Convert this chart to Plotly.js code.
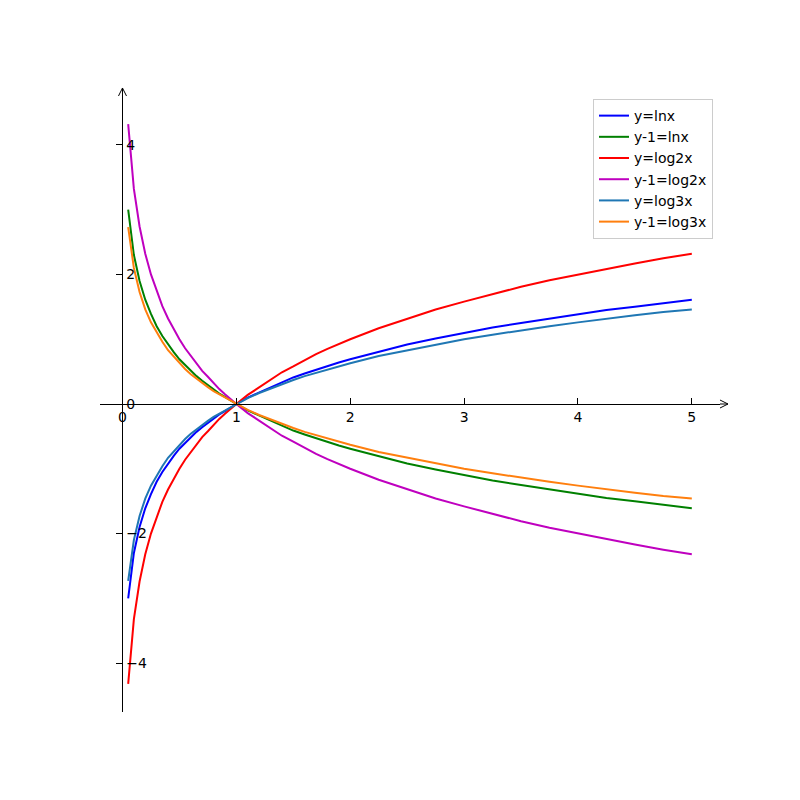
<!DOCTYPE html>
<html>
<head>
<meta charset="utf-8">
<script src="https://cdn.plot.ly/plotly-3.0.1.min.js"></script>
<style>body{margin:0;padding:0;background:#fff;} #chart{width:800px;height:800px;}</style>
</head>
<body>
<div id="chart"></div>
<script>
// x sample points
const xs = [0.05, 0.1, 0.15, 0.2, 0.25, 0.3, 0.35, 0.4, 0.45, 0.5, 0.55, 0.6, 0.65, 0.7, 0.75, 0.8, 0.85, 0.9, 0.95, 1.0,
            1.1, 1.2, 1.3, 1.4, 1.5, 1.6, 1.7, 1.8, 1.9, 2.0,
            2.25, 2.5, 2.75, 3.0, 3.25, 3.5, 3.75, 4.0, 4.25, 4.5, 4.75, 5.0];

// y = ln x
const yLn = [-3.00, -2.30, -1.90, -1.61, -1.39, -1.20, -1.05, -0.92, -0.80, -0.69, -0.60, -0.51, -0.43, -0.36, -0.29, -0.22, -0.16, -0.11, -0.05, 0,
             0.10, 0.18, 0.26, 0.34, 0.41, 0.47, 0.53, 0.59, 0.64, 0.69,
             0.81, 0.92, 1.01, 1.10, 1.18, 1.25, 1.32, 1.39, 1.45, 1.50, 1.56, 1.61];
// "y-1=lnx" curve
const yLnNeg = [3.00, 2.30, 1.90, 1.61, 1.39, 1.20, 1.05, 0.92, 0.80, 0.69, 0.60, 0.51, 0.43, 0.36, 0.29, 0.22, 0.16, 0.11, 0.05, 0,
                -0.10, -0.18, -0.26, -0.34, -0.41, -0.47, -0.53, -0.59, -0.64, -0.69,
                -0.81, -0.92, -1.01, -1.10, -1.18, -1.25, -1.32, -1.39, -1.45, -1.50, -1.56, -1.61];
// y = log2 x
const yLog2 = [-4.32, -3.32, -2.74, -2.32, -2.00, -1.74, -1.51, -1.32, -1.15, -1.00, -0.86, -0.74, -0.62, -0.51, -0.42, -0.32, -0.23, -0.15, -0.07, 0,
               0.14, 0.26, 0.38, 0.49, 0.58, 0.68, 0.77, 0.85, 0.93, 1.00,
               1.17, 1.32, 1.46, 1.58, 1.70, 1.81, 1.91, 2.00, 2.09, 2.17, 2.25, 2.32];
// "y-1=log2x" curve
const yLog2Neg = [4.32, 3.32, 2.74, 2.32, 2.00, 1.74, 1.51, 1.32, 1.15, 1.00, 0.86, 0.74, 0.62, 0.51, 0.42, 0.32, 0.23, 0.15, 0.07, 0,
                  -0.14, -0.26, -0.38, -0.49, -0.58, -0.68, -0.77, -0.85, -0.93, -1.00,
                  -1.17, -1.32, -1.46, -1.58, -1.70, -1.81, -1.91, -2.00, -2.09, -2.17, -2.25, -2.32];
// y = log3 x
const yLog3 = [-2.73, -2.10, -1.73, -1.46, -1.26, -1.10, -0.96, -0.83, -0.73, -0.63, -0.54, -0.46, -0.39, -0.32, -0.26, -0.20, -0.15, -0.10, -0.05, 0,
               0.09, 0.17, 0.24, 0.31, 0.37, 0.43, 0.48, 0.54, 0.58, 0.63,
               0.74, 0.83, 0.92, 1.00, 1.07, 1.14, 1.20, 1.26, 1.32, 1.37, 1.42, 1.46];
// "y-1=log3x" curve
const yLog3Neg = [2.73, 2.10, 1.73, 1.46, 1.26, 1.10, 0.96, 0.83, 0.73, 0.63, 0.54, 0.46, 0.39, 0.32, 0.26, 0.20, 0.15, 0.10, 0.05, 0,
                  -0.09, -0.17, -0.24, -0.31, -0.37, -0.43, -0.48, -0.54, -0.58, -0.63,
                  -0.74, -0.83, -0.92, -1.00, -1.07, -1.14, -1.20, -1.26, -1.32, -1.37, -1.42, -1.46];

const seriesNames = ['y=lnx', 'y-1=lnx', 'y=log2x', 'y-1=log2x', 'y=log3x', 'y-1=log3x'];
const seriesColors = ['#0000ff', '#008000', '#ff0000', '#bf00bf', '#1f77b4', '#ff7f0e'];
const seriesValues = [yLn, yLnNeg, yLog2, yLog2Neg, yLog3, yLog3Neg];

const xTicks = [0, 1, 2, 3, 4, 5];
const yTicks = [-4, -2, 0, 2, 4];

const xRange = [-0.1975, 5.2475];
const yRange = [-4.755, 4.755];

const traces = seriesValues.map((ys, i) => ({
  type: 'scatter', mode: 'lines', x: xs, y: ys, name: seriesNames[i],
  line: {color: seriesColors[i], width: 2}
}));

const yAxisPos = (0 - xRange[0]) / (xRange[1] - xRange[0]);
const xAxisPos = (0 - yRange[0]) / (yRange[1] - yRange[0]);
const font = {family: 'DejaVu Sans, sans-serif', size: 14, color: '#000'};

const layout = {
  width: 800, height: 800,
  margin: {l: 100, r: 80, t: 96, b: 88, pad: 0},
  paper_bgcolor: '#fff', plot_bgcolor: '#fff',
  font: font,
  showlegend: true,
  legend: {
    x: 0.9887, xanchor: 'right', y: 0.9951, yanchor: 'top',
    bgcolor: 'rgba(255,255,255,0.8)', bordercolor: '#cccccc', borderwidth: 1,
    font: font, tracegroupgap: 0
  },
  xaxis: {
    range: xRange, anchor: 'free', position: xAxisPos, side: 'bottom',
    showgrid: false, zeroline: false, showline: true, linecolor: '#000', linewidth: 1,
    ticks: 'inside', ticklen: 6, tickcolor: '#000', tickwidth: 1,
    tickvals: xTicks, ticktext: xTicks.map(String), tickfont: font
  },
  yaxis: {
    range: yRange, anchor: 'free', position: yAxisPos, side: 'right',
    showgrid: false, zeroline: false, showline: true, linecolor: '#000', linewidth: 1,
    ticks: 'inside', ticklen: 6, tickcolor: '#000', tickwidth: 1,
    tickvals: yTicks, ticktext: yTicks.map(v => v < 0 ? '\u2212' + Math.abs(v) : String(v)), tickfont: font
  },
  shapes: [
    // x-axis extension and arrowhead
    {type: 'line', xref: 'paper', yref: 'paper', x0: 1, x1: 1.0129, y0: xAxisPos, y1: xAxisPos,
     line: {color: '#000', width: 1}},
    {type: 'path', xref: 'paper', yref: 'paper', xsizemode: 'pixel', ysizemode: 'pixel',
     xanchor: 1.0129, yanchor: xAxisPos, path: 'M -8 4 L 0 0 L -8 -4',
     line: {color: '#000', width: 1}},
    // y-axis extension and arrowhead
    {type: 'line', xref: 'paper', yref: 'paper', x0: yAxisPos, x1: yAxisPos, y0: 1, y1: 1.013,
     line: {color: '#000', width: 1}},
    {type: 'path', xref: 'paper', yref: 'paper', xsizemode: 'pixel', ysizemode: 'pixel',
     xanchor: yAxisPos, yanchor: 1.013, path: 'M -4 -8 L 0 0 L 4 -8',
     line: {color: '#000', width: 1}}
  ]
};

Plotly.newPlot('chart', traces, layout, {displayModeBar: false, staticPlot: true});
</script>
</body>
</html>
